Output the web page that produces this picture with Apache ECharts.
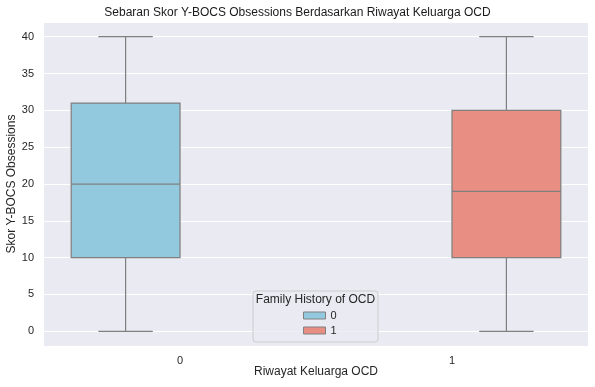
<!DOCTYPE html>
<html>
<head>
<meta charset="utf-8">
<script src="https://cdn.jsdelivr.net/npm/echarts@6/dist/echarts.min.js"></script>
<style>
html,body{margin:0;padding:0;background:#fff;}
#chart{width:595px;height:387px;}
</style>
</head>
<body>
<div id="chart"></div>
<script>
// Data
const categories = ['0', '1'];
const hueLevels = ['0', '1'];
// [min, q1, median, q3, max]
const statsHue0 = [0, 10, 20, 31, 40];
const statsHue1 = [0, 10, 19, 30, 40];
const titleText = 'Sebaran Skor Y-BOCS Obsessions Berdasarkan Riwayat Keluarga OCD';
const xTitle = 'Riwayat Keluarga OCD';
const yTitle = 'Skor Y-BOCS Obsessions';
const legendTitle = 'Family History of OCD';

const colors = ['#93C9DE', '#E98E83'];
const edge = '#808080';
const font = 'Liberation Sans, Arial, sans-serif';

function makeRender(offsetFrac) {
  return function (params, api) {
    const x = api.value(0);
    const band = api.size([1, 0])[0];
    const cx = api.coord([x, 0])[0] + offsetFrac * band;
    const w = 0.4 * band;
    const capHalf = 0.1 * band;
    const y = i => api.coord([x, api.value(i)])[1];
    const yMin = y(1), yQ1 = y(2), yMed = y(3), yQ3 = y(4), yMax = y(5);
    const ls = { stroke: edge, lineWidth: 1.25 };
    return {
      type: 'group',
      children: [
        { type: 'line', shape: { x1: cx, y1: yQ1, x2: cx, y2: yMin }, style: ls },
        { type: 'line', shape: { x1: cx, y1: yQ3, x2: cx, y2: yMax }, style: ls },
        { type: 'line', shape: { x1: cx - capHalf, y1: yMin, x2: cx + capHalf, y2: yMin }, style: ls },
        { type: 'line', shape: { x1: cx - capHalf, y1: yMax, x2: cx + capHalf, y2: yMax }, style: ls },
        { type: 'rect', shape: { x: cx - w / 2, y: yQ3, width: w, height: yQ1 - yQ3 },
          style: { fill: api.visual('color'), stroke: edge, lineWidth: 1.25 } },
        { type: 'line', shape: { x1: cx - w / 2, y1: yMed, x2: cx + w / 2, y2: yMed }, style: ls }
      ]
    };
  };
}

const chart = echarts.init(document.getElementById('chart'), null, { renderer: 'canvas' });
chart.setOption({
  animation: false,
  backgroundColor: '#ffffff',
  title: {
    text: titleText, left: 'center', top: 2,
    textStyle: { fontFamily: font, fontSize: 12, fontWeight: 'normal', color: '#1a1a1a' }
  },
  grid: {
    left: 44, right: 7, top: 22, bottom: 41,
    outerBoundsMode: 'none', containLabel: false,
    show: true, backgroundColor: '#EAEAF2', borderWidth: 0
  },
  xAxis: {
    type: 'category', data: categories, boundaryGap: true,
    name: xTitle, nameLocation: 'middle', nameGap: 20, nameMoveOverlap: false,
    nameTextStyle: { fontFamily: font, fontSize: 12, color: '#262626' },
    axisLine: { show: false }, axisTick: { show: false },
    axisLabel: { fontFamily: font, fontSize: 11, color: '#262626', margin: 9 },
    splitLine: { show: false }
  },
  yAxis: {
    type: 'value', min: -2, max: 42, splitNumber: 9,
    name: yTitle, nameLocation: 'middle', nameGap: 26, nameRotate: 90, nameMoveOverlap: false,
    nameTextStyle: { fontFamily: font, fontSize: 12, color: '#262626' },
    axisLine: { show: false }, axisTick: { show: false },
    axisLabel: {
      fontFamily: font, fontSize: 11, color: '#262626', margin: 10,
      formatter: v => (v % 5 === 0 ? String(v) : '')
    },
    splitLine: { lineStyle: { color: '#ffffff', width: 1 } }
  },
  legend: {
    orient: 'vertical', left: 298, top: 305,
    itemWidth: 22, itemHeight: 7, itemGap: 4,
    textStyle: { fontFamily: font, fontSize: 11, color: '#262626' },
    z: 20,
    data: hueLevels.map((h, i) => ({
      name: h, icon: 'rect',
      itemStyle: { color: colors[i], borderColor: edge, borderWidth: 1 }
    }))
  },
  graphic: [
    { type: 'rect', z: 15, x: 253, y: 291,
      shape: { width: 125, height: 51, r: 3 },
      style: { fill: 'rgba(234,234,242,0.8)', stroke: '#cccccc', lineWidth: 1 } },
    { type: 'text', z: 16, x: 315.5, y: 300,
      style: { text: legendTitle, font: '12px ' + font, fill: '#262626',
               align: 'center', verticalAlign: 'middle' } }
  ],
  series: [
    {
      name: hueLevels[0], type: 'custom', renderItem: makeRender(-0.2),
      itemStyle: { color: colors[0] },
      encode: { x: 0, y: [1, 2, 3, 4, 5] },
      data: [[0].concat(statsHue0)], z: 5
    },
    {
      name: hueLevels[1], type: 'custom', renderItem: makeRender(0.2),
      itemStyle: { color: colors[1] },
      encode: { x: 0, y: [1, 2, 3, 4, 5] },
      data: [[1].concat(statsHue1)], z: 5
    }
  ]
});
</script>
</body>
</html>
